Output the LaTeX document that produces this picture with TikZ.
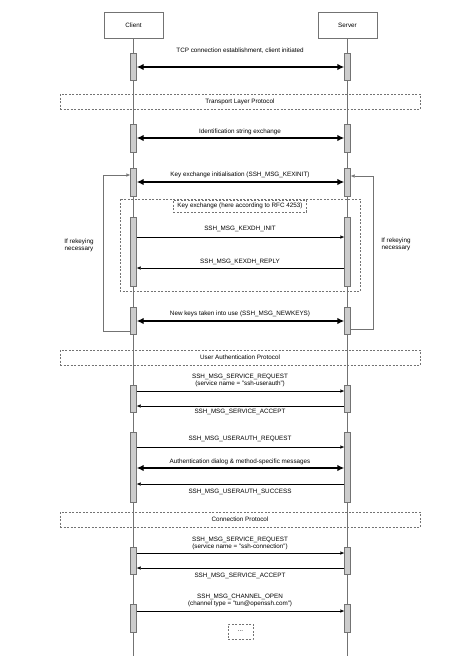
\documentclass[tikz,border=0pt]{standalone}
\usepackage{fontspec}
\setmainfont{Liberation Sans}
\usetikzlibrary{arrows.meta,positioning}
\definecolor{barfill}{gray}{0.8}
\definecolor{linegray}{gray}{0.45}
\newcommand{\diagfont}{\fontsize{6.3}{7}\selectfont}
% activation bar: name, x, top, bottom
\newcommand{\actbar}[4]{\node[actbox, minimum height={#4pt-#3pt}, anchor=north] (#1) at (#2,#3) {};}
\tikzset{
  actor/.style={draw=linegray, minimum width=59pt, minimum height=26pt},
  actbox/.style={draw=linegray, fill=barfill, minimum width=6pt, inner sep=0pt},
  life/.style={draw=linegray, line width=0.5pt},
  msg/.style={-{Latex[length=4pt,width=3.5pt]}, line width=0.4pt},
  loopmsg/.style={-{Latex[length=4pt,width=3.5pt]}, draw=linegray, line width=0.4pt},
  both/.style={{Latex[length=7pt,width=6.5pt]}-{Latex[length=7pt,width=6.5pt]}, line width=1.6pt},
  phase/.style={draw=linegray, dash pattern=on 2pt off 1.5pt, minimum width=360pt, minimum height=15pt},
  frame/.style={draw=linegray, dash pattern=on 2pt off 1.5pt}
}
\begin{document}
\begin{tikzpicture}[x=1pt, y=-1pt, font=\diagfont]
  \useasboundingbox (0,0) rectangle (474,667);

  % participants and lifelines
  \node[actor] (client) at (133.5,25) {Client};
  \node[actor] (server) at (347.5,25) {Server};
  \coordinate (cend) at (133.5,656);
  \coordinate (send) at (347.5,656);
  \draw[life] (client) -- (cend);
  \draw[life] (server) -- (send);

  % protocol phases
  \node[phase] (tlp) at (240,101.5) {Transport Layer Protocol};
  \node[phase] (uap) at (240,357.5) {User Authentication Protocol};
  \node[phase] (conp) at (240,519.5) {Connection Protocol};

  % key exchange frame
  \draw[frame] (120,199) rectangle (360,291);
  \node[frame, inner xsep=4pt, minimum height=10pt] (kexlbl) at (240,206) {Key exchange (here according to RFC 4253)};

  % activation bars
  \foreach \n/\t/\b in {1/53/80, 2/124/152, 3/168/196, 4/217/286, 5/307/334,
                        6/385/412, 7/432/502, 8/547/574, 9/604/632} {
    \actbar{c\n}{133.5}{\t}{\b}
    \actbar{s\n}{347.5}{\t}{\b}
  }

  % transport layer
  \draw[both] (c1.east |- 0,67) -- (s1.west |- 0,67);
  \node (tcp) at (240,51) {TCP connection establishment, client initiated};
  \draw[both] (c2.east |- 0,138) -- (s2.west |- 0,138);
  \node (ident) at (240,132) {Identification string exchange};
  \draw[both] (c3.east |- 0,182) -- (s3.west |- 0,182);
  \node (kexinit) at (240,175) {Key exchange initialisation (SSH\_MSG\_KEXINIT)};
  \draw[msg] (c4.east |- 0,237) -- (s4.west |- 0,237);
  \node (dhinit) at (240,229) {SSH\_MSG\_KEXDH\_INIT};
  \draw[msg] (s4.west |- 0,268) -- (c4.east |- 0,268);
  \node (dhreply) at (240,262) {SSH\_MSG\_KEXDH\_REPLY};
  \draw[both] (c5.east |- 0,321) -- (s5.west |- 0,321);
  \node (newkeys) at (240,314) {New keys taken into use (SSH\_MSG\_NEWKEYS)};

  % rekeying loops
  \draw[loopmsg] (c5.west |- 0,331) -- ++(-27.5,0) |- (c3.west |- 0,175);
  \draw[loopmsg] (s5.east |- 0,329) -- ++(22.5,0) |- (s3.east |- 0,176);
  \node[align=center] (rekeyl) at (79,245) {If rekeying\\necessary};
  \node[align=center] (rekeyr) at (396,244) {If rekeying\\necessary};

  % user authentication
  \draw[msg] (c6.east |- 0,391) -- (s6.west |- 0,391);
  \node[align=center] (srvreq1) at (240,380.5) {SSH\_MSG\_SERVICE\_REQUEST\\(service name = "ssh-userauth")};
  \draw[msg] (s6.west |- 0,406) -- (c6.east |- 0,406);
  \node (srvacc1) at (240,411.5) {SSH\_MSG\_SERVICE\_ACCEPT};
  \draw[msg] (c7.east |- 0,447) -- (s7.west |- 0,447);
  \node (uareq) at (240,439) {SSH\_MSG\_USERAUTH\_REQUEST};
  \draw[both] (c7.east |- 0,468) -- (s7.west |- 0,468);
  \node (dialog) at (240,462) {Authentication dialog \& method-specific messages};
  \draw[msg] (s7.west |- 0,484) -- (c7.east |- 0,484);
  \node (uasucc) at (240,492) {SSH\_MSG\_USERAUTH\_SUCCESS};

  % connection
  \draw[msg] (c8.east |- 0,553) -- (s8.west |- 0,553);
  \node[align=center] (srvreq2) at (240,543) {SSH\_MSG\_SERVICE\_REQUEST\\(service name = "ssh-connection")};
  \draw[msg] (s8.west |- 0,568) -- (c8.east |- 0,568);
  \node (srvacc2) at (240,576) {SSH\_MSG\_SERVICE\_ACCEPT};
  \draw[msg] (c9.east |- 0,611) -- (s9.west |- 0,611);
  \node[align=center] (chopen) at (240,600.5) {SSH\_MSG\_CHANNEL\_OPEN\\(channel type = "tun@openssh.com")};
  \node[frame, minimum width=25pt, minimum height=15pt] (dots) at (240.5,631.5) {...};
\end{tikzpicture}
\end{document}
